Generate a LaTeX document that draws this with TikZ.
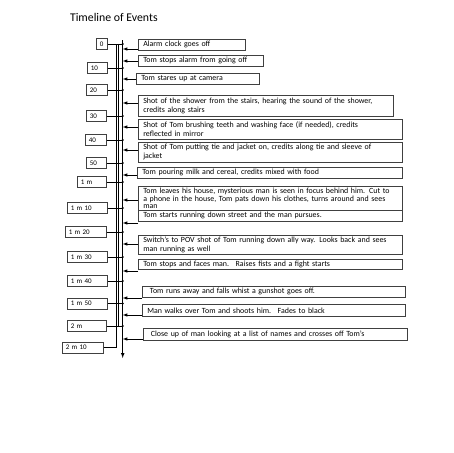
\documentclass[tikz,border=0pt]{standalone}
\usepackage{fontspec}
\setmainfont{Carlito}
\usetikzlibrary{arrows,positioning}

\begin{document}
\begin{tikzpicture}[x=1pt,y=-1pt,
    timebox/.style={draw=black!75,line width=.6pt,anchor=west,align=left,inner xsep=3.5pt,inner ysep=0pt,minimum height=11pt,font=\fontsize{7}{8}\selectfont},
    eventbox/.style={draw=black!75,line width=.6pt,anchor=north west,align=left,inner xsep=5pt,inner ysep=.5pt,font=\fontsize{7.9}{8.6}\selectfont},
    link/.style={line width=.7pt},
    pointer/.style={-latex,line width=.6pt}]
  \useasboundingbox (0,0) rectangle (453,453);
  \node[anchor=base west,font=\fontsize{11.8}{14}\selectfont] (title) at (66.5,21.5) {Timeline of Events};
  % the time marks
  \foreach \n/\t/\l/\w/\y in {0/0/96/4/44, 10/10/87/13/68, 20/20/86/14/90, 30/30/86/13/116,
      40/40/85/14/140, 50/50/86/13/163, 60/1 m/77/22/182, 70/1 m 10/67/33/208, 80/1 m 20/65/34/232,
      90/1 m 30/67/33/257, 100/1 m 40/67/33/281, 110/1 m 50/67/33/303.5, 120/2 m/67/32/326, 130/2 m 10/62/34/347.5}
    \node[timebox,text width=\w pt] (t\n) at (\l,\y) {\t};
  % the events
  \node[eventbox,text width=97pt,minimum height=11pt] (e1) at (138,39) {Alarm clock goes off};
  \node[eventbox,text width=115pt,minimum height=11pt] (e2) at (138,55) {Tom stops alarm from going off};
  \node[eventbox,text width=113pt,minimum height=11pt] (e3) at (136,72.5) {Tom stares up at camera};
  \node[eventbox,text width=245pt,minimum height=21pt] (e4) at (138,95) {Shot of the shower from the stairs, hearing the sound of the shower,\\credits along stairs};
  \node[eventbox,text width=254pt,minimum height=20pt] (e5) at (138,119) {Shot of Tom brushing teeth and washing face (if needed), credits\\reflected in mirror};
  \node[eventbox,text width=254pt,minimum height=19.5pt] (e6) at (138,142) {Shot of Tom putting tie and jacket on, credits along tie and sleeve of\\jacket};
  \node[eventbox,text width=255pt,minimum height=10.5pt] (e7) at (137,167) {Tom pouring milk and cereal, credits mixed with food};
  \node[eventbox,text width=254pt,minimum height=24pt,font=\fontsize{7.9}{7.6}\selectfont] (e8) at (138,186) {Tom leaves his house, mysterious man is seen in focus behind him. Cut to\\a phone in the house, Tom pats down his clothes, turns around and sees\\man};
  \node[eventbox,text width=254pt,minimum height=11pt] (e9) at (138,210) {Tom starts running down street and the man pursues.};
  \node[eventbox,text width=254pt,minimum height=19pt] (e10) at (138,235) {Switch’s to POV shot of Tom running down ally way. Looks back and sees\\man running as well};
  \node[eventbox,text width=254pt,minimum height=10.5pt] (e11) at (138,258.5) {Tom stops and faces man. \ Raises fists and a fight starts};
  \node[eventbox,text width=253pt,minimum height=11pt] (e12) at (142,286) {\ Tom runs away and falls whist a gunshot goes off.};
  \node[eventbox,text width=253pt,minimum height=12pt] (e13) at (142,304) {Man walks over Tom and shoots him. \ Fades to black};
  \node[eventbox,text width=254pt,minimum height=12pt] (e14) at (143,328) {\ Close up of man looking at a list of names and crosses off Tom’s};
  % rails and the time line
  \coordinate (railA) at (116,0);
  \coordinate (railB) at (118.5,0);
  \coordinate (top) at (122.7,40);
  \coordinate (bot) at (122.7,358);
  \draw[link] (t0.east -| railA) -- (t130.east -| railA);
  \draw[link] (t0.east -| railB) -- (t120.east -| railB);
  \draw[pointer,line width=.7pt] (top) -- (bot);
  \foreach \n in {0,10,...,120} {
    \draw[link] (t\n.east) -- (t\n.east -| top);
    \fill (t\n.east -| top) circle (1.1pt);
  }
  \draw[link] (t130.east) -- (t130.east -| railA);
  % events point at the time line
  \foreach \e/\y in {e1/49, e2/61, e3/79, e4/103, e5/127, e6/150, e7/175, e8/200, e9/223,
      e10/244, e11/271, e12/298, e13/315, e14/339}
    \draw[pointer] (\e.west |- 0,\y) -- (top |- 0,\y);
\end{tikzpicture}
\end{document}
